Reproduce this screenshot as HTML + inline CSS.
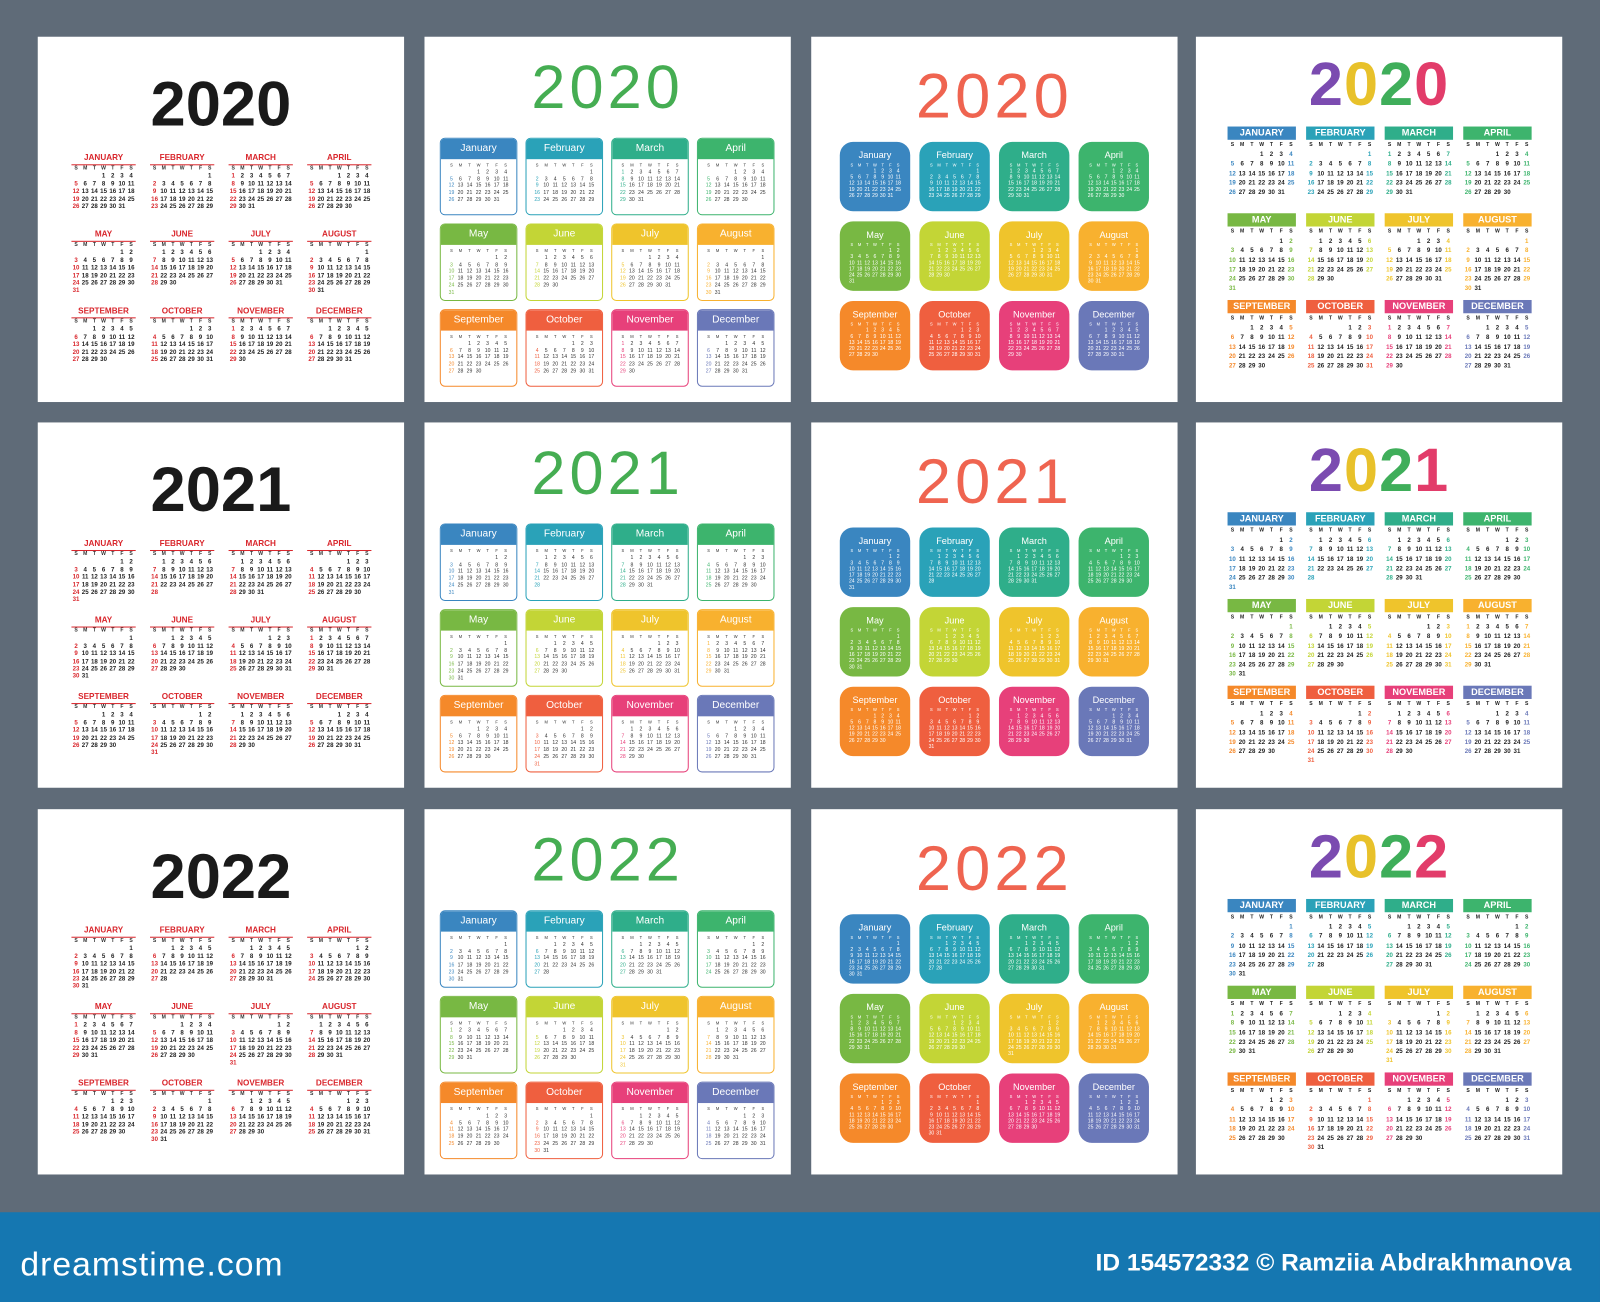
<!DOCTYPE html>
<html><head><meta charset="utf-8">
<style>
html,body{margin:0;padding:0;width:1600px;height:1302px;overflow:hidden;background:#5f6b78;font-family:"Liberation Sans",sans-serif;}
#wrap{position:absolute;left:0;top:0;width:1568px;height:1276px;transform:scale(1.0204);transform-origin:0 0;}
.panel{position:absolute;background:#fff;width:359px;height:358px;overflow:hidden;}
.a{position:absolute;white-space:nowrap;line-height:1;}
#footer{position:absolute;left:0;top:1188px;width:1568px;height:88px;background:#1577b1;}
</style></head>
<body>
<div id="wrap">
<div id="footer">
 <div class="a" style="left:20px;top:34px;font-size:33px;color:#fff;letter-spacing:1px">dreamstime.com</div>
 <div class="a" style="right:28px;top:38px;font-size:24px;font-weight:bold;color:#fff">ID 154572332 © Ramziia Abdrakhmanova</div>
</div>
</div>
<script>
const years=[2020,2021,2022];
const monthNames=["January","February","March","April","May","June","July","August","September","October","November","December"];
const monthColors=["#3a86c0","#2aa2b8","#2fae8a","#3db46d","#78b843","#c3d536","#efc42c","#f8b12f","#f5892a","#ef5f3f","#e7407a","#6a78b8"];
const yearLetterColors=["#7b4bb0","#e8c12a","#3fae5a","#e23c6a"];
const wdays=["S","M","T","W","T","F","S"];
const panelX=[37,416,795,1172], panelY=[36,414,793];
const wrap=document.getElementById('wrap');

function el(parent,css,text){const d=document.createElement('div');d.className='a';d.style.cssText=css;if(text!==undefined)d.textContent=text;parent.appendChild(d);return d;}

function grid(p,x,y,w,rowH,year,m,o){
  const first=new Date(year,m,1).getDay();
  const n=new Date(year,m+1,0).getDate();
  const cw=w/7;
  for(let i=0;i<7;i++){
    const t=el(p,`left:${x+i*cw}px;top:${y}px;width:${cw}px;text-align:center;font-size:${o.fs-1}px;color:${o.hc};font-weight:${o.fw}`,wdays[i]);
    
    
  }
  for(let d=1;d<=n;d++){
    const idx=first+d-1,c=idx%7,r=Math.floor(idx/7);
    const col=(c===0&&o.sun)?o.sun:((c===6&&o.sat)?o.sat:o.dc);
    const t=el(p,`left:${x+c*cw}px;top:${y+(r+1)*rowH}px;width:${cw}px;text-align:center;font-size:${o.fs}px;color:${col};font-weight:${o.fw}`,d);
    
    
  }
}

years.forEach((yr,ri)=>{
  let p=el(wrap,`left:${panelX[0]}px;top:${panelY[ri]}px`);p.className='panel';
  
  
  let t=el(p,`left:0;top:36px;width:359px;text-align:center;font-size:62px;font-weight:bold;color:#1a1a1a`,yr);
  
  
  for(let m=0;m<12;m++){
    const c=m%4,r=Math.floor(m/4);const x=33+c*77,y=115+r*75;
    t=el(p,`left:${x}px;top:${y}px;width:63px;text-align:center;font-size:8px;font-weight:bold;color:#d9262c`,monthNames[m].toUpperCase());
    
    
    t=el(p,`left:${x}px;top:${y+10}px;width:63px;height:1px;background:#d9262c`);
    
    
    grid(p,x,y+12,63,7.4,yr,m,{fs:6,hc:'#333',dc:'#222',sun:'#d9262c',fw:'bold'});
  }
  p=el(wrap,`left:${panelX[1]}px;top:${panelY[ri]}px`);p.className='panel';
  
  
  t=el(p,`left:0;top:20px;width:359px;text-align:center;font-size:60px;color:#45ad52;letter-spacing:4px`,yr);
  
  
  for(let m=0;m<12;m++){
    const c=m%4,r=Math.floor(m/4);const x=15+c*84,y=99+r*84;
    const card=el(p,`left:${x}px;top:${y}px;width:74px;height:74px;border:1px solid ${monthColors[m]};border-radius:5px;overflow:hidden`);
    
    
    t=el(card,`left:0;top:0;width:74px;height:20px;background:${monthColors[m]};color:#fff;font-size:10px;text-align:center;line-height:20px`,monthNames[m]);
    
    
    grid(card,6,24,62,6.8,yr,m,{fs:5,hc:'#333',dc:'#333',sun:monthColors[m],fw:'normal'});
  }
  p=el(wrap,`left:${panelX[2]}px;top:${panelY[ri]}px`);p.className='panel';
  
  
  t=el(p,`left:0;top:28px;width:359px;text-align:center;font-size:62px;color:#ef6450;letter-spacing:4px`,yr);
  
  
  for(let m=0;m<12;m++){
    const c=m%4,r=Math.floor(m/4);const x=28+c*78,y=103+r*78;
    const tile=el(p,`left:${x}px;top:${y}px;width:69px;height:68px;background:${monthColors[m]};border-radius:13px`);
    
    
    t=el(tile,`left:0;top:9px;width:69px;text-align:center;color:#fff;font-size:9px`,monthNames[m]);
    
    
    grid(tile,8,21,53,6,yr,m,{fs:5,hc:'#fff',dc:'#fff',fw:'normal'});
  }
  p=el(wrap,`left:${panelX[3]}px;top:${panelY[ri]}px`);p.className='panel';
  
  
  const yd=el(p,`left:0;top:17px;width:359px;text-align:center;font-size:60px;font-weight:bold;letter-spacing:1px`);
  
  
  String(yr).split('').forEach((ch,i)=>{const s=document.createElement('span');s.textContent=ch;s.style.color=yearLetterColors[i];yd.appendChild(s);});
  for(let m=0;m<12;m++){
    const c=m%4,r=Math.floor(m/4);const x=31+c*77,y=88+r*85;
    t=el(p,`left:${x}px;top:${y}px;width:67px;height:13px;background:${monthColors[m]};color:#fff;font-size:9px;font-weight:bold;text-align:center;line-height:13px`,monthNames[m].toUpperCase());
    
    
    grid(p,x,y+16,67,9.2,yr,m,{fs:6,hc:'#222',dc:'#222',sun:monthColors[m],sat:monthColors[m],fw:'bold'});
  }
});
</script>
</body></html>
